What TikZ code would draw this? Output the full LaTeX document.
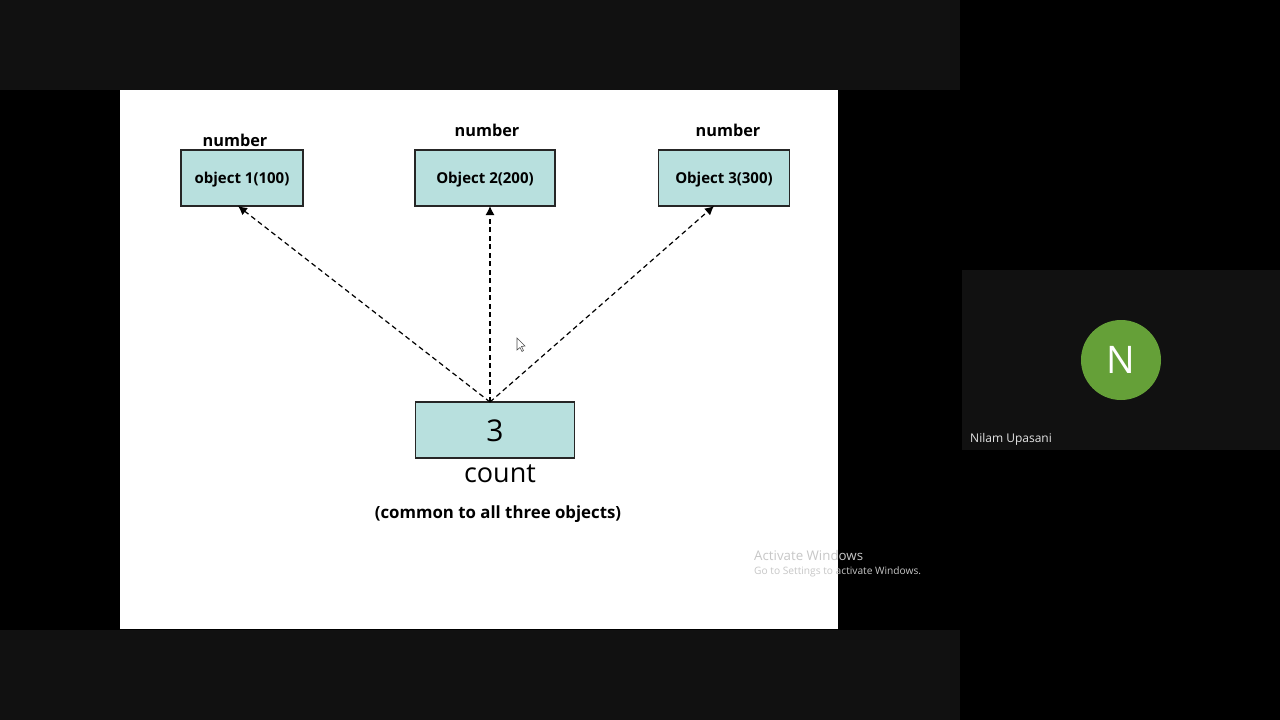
\documentclass[tikz,border=0pt]{standalone}
\usepackage{fontspec}
\setmainfont{Open Sans}
\usetikzlibrary{positioning}
\usetikzlibrary{arrows.meta}
\definecolor{boxteal}{RGB}{184,224,222}
\definecolor{barblack}{RGB}{17,17,17}
\definecolor{tilegreen}{RGB}{101,160,56}
\tikzset{
	objbox/.style={draw=black!85, fill=boxteal, line width=1.3pt, inner sep=0pt, outer sep=0pt, minimum height=56pt},
	objtext/.style={font=\fontsize{15}{18}\selectfont\bfseries, text height=13pt, text depth=2pt},
	numtext/.style={font=\fontsize{16.3}{20}\selectfont\bfseries},
	linktip/.style={dash pattern=on 5pt off 3.5pt, line width=1.2pt, -{Latex[length=9pt,width=9pt]}},
}
\begin{document}
\begin{tikzpicture}[x=1pt, y=-1pt]
		\useasboundingbox (0,0) rectangle (1280,720);
		\fill[black] (0,0) rectangle (1280,720);
		\fill[barblack] (0,0) rectangle (960,90);
		\fill[barblack] (0,630) rectangle (960,720);
		\fill[white] (120,90) rectangle (838,629);
		\fill[barblack] (962,270) rectangle (1280,450);
		% boxes
		\node[objbox, minimum width=122pt, objtext] (obj1) at (242,178) {object 1(100)};
		\node[objbox, minimum width=140pt, objtext] (obj2) at (485,178) {Object 2(200)};
		\node[objbox, minimum width=131pt, objtext] (obj3) at (724,178) {Object 3(300)};
		\node[objbox, minimum width=159pt, font=\fontsize{30}{32}\selectfont, text height=24pt, text depth=2pt] (cnt) at (495,430) {3};
		% labels
		\node[numtext] (num1) at (235,140.5) {number};
		\node[numtext] (num2) at (487,130.5) {number};
		\node[numtext] (num3) at (728,130.5) {number};
		\node[font=\fontsize{27}{30}\selectfont] (cntlabel) at (500,474) {count};
		\node[font=\fontsize{16.8}{20}\selectfont\bfseries] (common) at (498,514) {(common to all three objects)};
		% arrows
		\coordinate (apex) at (490,402);
		\coordinate[left=4pt of obj1.south] (tip1);
		\coordinate[right=5pt of obj2.south] (tip2);
		\coordinate[left=10pt of obj3.south] (tip3);
		\draw[linktip] (apex) -- (tip1);
		\draw[linktip] (apex) -- (tip2);
		\draw[linktip] (apex) -- (tip3);
		% pointer
		\draw[fill=white, draw=black!70, line width=0.6pt] (517,338) -- (517,350) -- (520,347.5) -- (522,351.5) -- (523.5,350.5) -- (521.5,346.5) -- (525,346) -- cycle;
		% participant tile
		\node[circle, fill=tilegreen, minimum size=80pt, inner sep=0pt, text=white, font=\fontsize{38}{40}\selectfont] (avatar) at (1121,360) {N};
		\node[anchor=west, inner sep=0pt, text=white!90!black, font=\fontsize{12}{14}\selectfont] (tilename) at (970,439) {Nilam Upasani};
		% watermark
		\node[anchor=west, inner sep=0pt, text=black!22, font=\fontsize{13.3}{15}\selectfont] (wmark) at (754,556) {Activate Windows};
		\node[anchor=west, inner sep=0pt, text=black!22, font=\fontsize{10.2}{12}\selectfont] (wmarksub) at (754,572) {Go to Settings to activate Windows.};
		\end{tikzpicture}
\end{document}
